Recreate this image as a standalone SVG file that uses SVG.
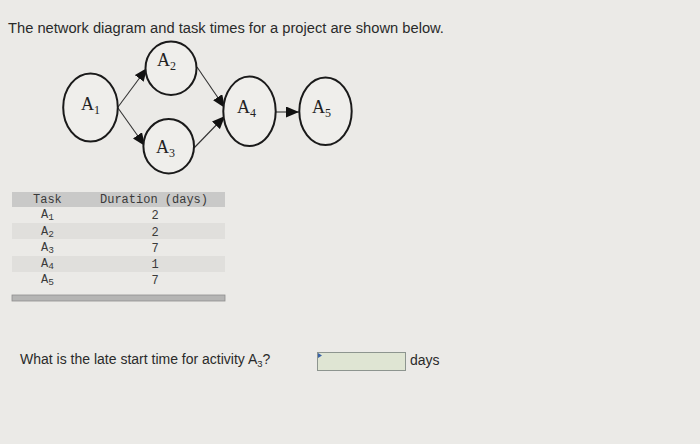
<svg xmlns="http://www.w3.org/2000/svg" width="700" height="444" viewBox="0 0 700 444">
<defs>
<marker id="ah" markerUnits="userSpaceOnUse" markerWidth="14" markerHeight="11" refX="13" refY="5.5" orient="auto">
<path d="M0,0 L13,5.5 L0,11 z" fill="#111"/>
</marker>
<style>
.node ellipse{fill:#efeeeb;stroke:#1a1a1a;stroke-width:2}
.nl{font-family:"Liberation Serif",serif;font-size:18px;fill:#222}
.sub{font-size:12px}
.conn line{stroke:#333;stroke-width:1.1;marker-end:url(#ah)}
.sans{font-family:"Liberation Sans",Arial,sans-serif;fill:#2a2a2a}
.mono{font-family:"Liberation Mono",monospace;font-size:12px;fill:#3a3a3a}
.msub{font-size:9.5px}
</style>
</defs>
<rect width="700" height="444" fill="#ebeae7"/>
<text class="sans" x="8" y="33" font-size="14.7">The network diagram and task times for a project are shown below.</text>

<g id="connectors" class="conn">
<line x1="118" y1="107" x2="147" y2="68"/>
<line x1="118" y1="108" x2="145" y2="146"/>
<line x1="197" y1="67" x2="225" y2="108"/>
<line x1="194" y1="148" x2="225" y2="116"/>
<line x1="276" y1="112" x2="299" y2="112"/>
</g>

<g id="A1" class="node"><ellipse cx="90.5" cy="107.5" rx="27.3" ry="34"/><text class="nl" x="81" y="110">A<tspan class="sub" dy="4">1</tspan></text></g>
<g id="A2" class="node"><ellipse cx="171" cy="68.3" rx="25.5" ry="26.7"/><text class="nl" x="157" y="66">A<tspan class="sub" dy="4">2</tspan></text></g>
<g id="A3" class="node"><ellipse cx="168.7" cy="146.2" rx="25.3" ry="27.2"/><text class="nl" x="156" y="153">A<tspan class="sub" dy="4">3</tspan></text></g>
<g id="A4" class="node"><ellipse cx="249.5" cy="111.3" rx="26.2" ry="34.7"/><text class="nl" x="237" y="113">A<tspan class="sub" dy="4">4</tspan></text></g>
<g id="A5" class="node"><ellipse cx="325.5" cy="111.2" rx="26.2" ry="33.8"/><text class="nl" x="312" y="113">A<tspan class="sub" dy="4">5</tspan></text></g>

<g id="table">
<rect x="12" y="192" width="213" height="15" fill="#c9c9c8"/>
<rect x="12" y="223" width="213" height="16" fill="#e0dfdc"/>
<rect x="12" y="256" width="213" height="16" fill="#e0dfdc"/>
<rect x="12" y="295" width="213" height="6" fill="#b5b5b4" stroke="#8f8f8e" stroke-width="0.8"/>
<text class="mono" x="33" y="203">Task</text>
<text class="mono" x="100" y="203">Duration (days)</text>
<text class="mono" x="41" y="218">A<tspan class="msub" dy="2">1</tspan></text>
<text class="mono" x="41" y="235">A<tspan class="msub" dy="2">2</tspan></text>
<text class="mono" x="41" y="251">A<tspan class="msub" dy="2">3</tspan></text>
<text class="mono" x="41" y="267">A<tspan class="msub" dy="2">4</tspan></text>
<text class="mono" x="41" y="283">A<tspan class="msub" dy="2">5</tspan></text>
<g text-anchor="middle">
<text class="mono" x="155" y="219">2</text>
<text class="mono" x="155" y="236">2</text>
<text class="mono" x="155" y="252">7</text>
<text class="mono" x="155" y="268">1</text>
<text class="mono" x="155" y="284">7</text>
</g>
</g>

<text class="sans" x="20" y="364" font-size="14">What is the late start time for activity A<tspan font-size="9.5" dy="3">3</tspan><tspan dy="-3">?</tspan></text>
<rect x="317.5" y="352.5" width="88" height="18" fill="#dfe5d3" stroke="#8d958f" stroke-width="1"/>
<path d="M318,353 L322,355.5 L318,358 z" fill="#3a62a6"/>
<text class="sans" x="410" y="365" font-size="14">days</text>
</svg>
